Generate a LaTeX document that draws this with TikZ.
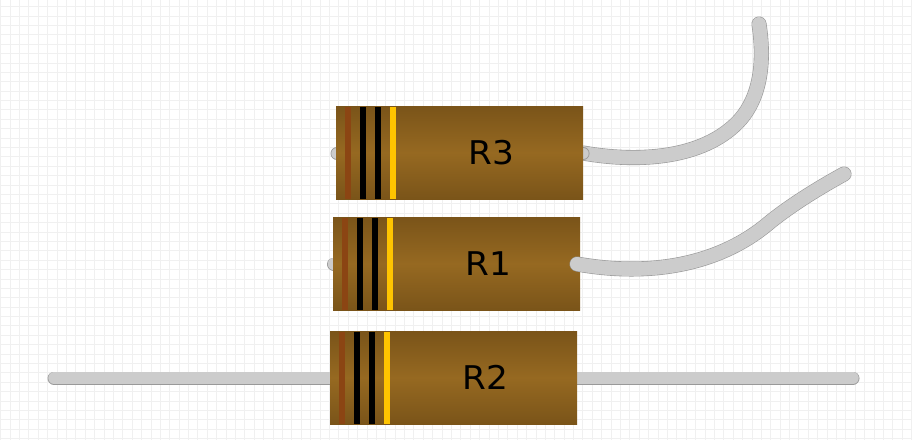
\documentclass[tikz,border=0pt]{standalone}
\usepackage{fontspec}
\setmainfont{DejaVu Sans}
\definecolor{wirefill}{HTML}{CCCCCC}
\definecolor{wireedge}{HTML}{999999}
\definecolor{bodytop}{HTML}{7A5419}
\definecolor{bodymid}{HTML}{966921}
\definecolor{bandbrown}{HTML}{8B4513}
\definecolor{bandgold}{HTML}{FFC400}
\definecolor{gridline}{HTML}{F0F0F0}
\tikzset{
  x=0.75pt,y=-0.75pt,
  body/.style={rectangle,minimum width=185.25pt,minimum height=70.1pt,inner sep=0pt,outer sep=0pt,anchor=north west,
    top color=bodytop,bottom color=bodytop,middle color=bodymid},
  band/.style={rectangle,minimum width=4.5pt,minimum height=69pt,inner sep=0pt,outer sep=0pt,anchor=west},
  tag/.style={inner sep=0pt,font=\fontsize{24.5}{24.5}\selectfont,xscale=1.05,transform shape},
  leadA/.style={line width=9.75pt,color=wireedge,line cap=round},
  leadB/.style={line width=8.6pt,color=wirefill,line cap=round},
  flexA/.style={line width=11.3pt,color=wireedge,line cap=round},
  flexB/.style={line width=10.4pt,color=wirefill,line cap=round},
}
\newcommand{\resistor}[3]{%
  \node[body] (#1) at (#2,#3) {};
  \node[band,fill=bandbrown] (#1a) at ([xshift=6.75pt]#1.west) {};
  \node[band,fill=black] (#1b) at ([xshift=18pt]#1.west) {};
  \node[band,fill=black] (#1c) at ([xshift=29.25pt]#1.west) {};
  \node[band,fill=bandgold] (#1d) at ([xshift=40.5pt]#1.west) {};
  \node[tag] (#1t) at ([xshift=116.5pt,yshift=0pt]#1.west) {#1};
}
\begin{document}
\begin{tikzpicture}
\useasboundingbox (0,0) rectangle (912,440);
\fill[white] (0,0) rectangle (912,440);
\foreach \i in {0,...,97} \draw[gridline,line width=0.6pt] ({0.7+9.39*\i},0) -- ({0.7+9.39*\i},440);
\foreach \i in {0,...,46} \draw[gridline,line width=0.6pt] (0,{6.6+9.39*\i}) -- (912,{6.6+9.39*\i});

% coordinates for the free ends
\coordinate (r3l) at (337,153.5);
\coordinate (r3r) at (583,153.5);
\coordinate (r3s) at (583,153);
\coordinate (r3m) at (737,123);
\coordinate (r3e) at (759,24);
\coordinate (r1l) at (333.5,264);
\coordinate (r1r) at (577,264);
\coordinate (r1m) at (770,222);
\coordinate (r1e) at (844,174);
\coordinate (r2l) at (54,378);
\coordinate (r2r) at (853,378);

% R3 flexible wire and lead
\draw[flexA] (r3s) .. controls (640,163) and (702,158) .. (r3m) .. controls (757,103) and (766,70) .. (r3e);
\draw[flexB] (r3s) .. controls (640,163) and (702,158) .. (r3m) .. controls (757,103) and (766,70) .. (r3e);
\draw[leadA] (r3l) -- (r3r);
\draw[leadB] (r3l) -- (r3r);
% R1 lead
\draw[leadA] (r1l) -- (r1r);
\draw[leadB] (r1l) -- (r1r);
% R2 lead
\draw[leadA] (r2l) -- (r2r);
\draw[leadB] (r2l) -- (r2r);

\resistor{R3}{336}{106}
\resistor{R1}{333}{217}
\resistor{R2}{330}{331}

% R1 flexible wire on top
\draw[flexA] (r1r) .. controls (650,277) and (720,265) .. (r1m) .. controls (790,206) and (815,190) .. (r1e);
\draw[flexB] (r1r) .. controls (650,277) and (720,265) .. (r1m) .. controls (790,206) and (815,190) .. (r1e);
\end{tikzpicture}
\end{document}
